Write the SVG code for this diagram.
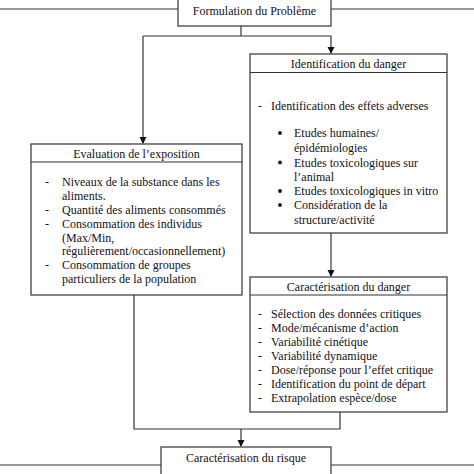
<svg xmlns="http://www.w3.org/2000/svg" width="474" height="474" viewBox="0 0 474 474">
<defs>
<marker id="arr" markerWidth="7" markerHeight="8" refX="6" refY="3.5" orient="auto" markerUnits="userSpaceOnUse">
<path d="M0,0 L7,3.5 L0,7 Z" fill="#111"/>
</marker>
<style>
.box{fill:#fff;stroke:#333;stroke-width:1.2}
.ln{fill:none;stroke:#333;stroke-width:1.2}
text{font-family:"Liberation Serif","Times New Roman",serif;font-size:12px;fill:#111}
.c{text-anchor:middle}
.dot{fill:#111}
</style>
</defs>
<rect width="474" height="474" fill="#fff"/>
<g id="connectors">
<line class="ln" x1="0" y1="9" x2="178" y2="9"/>
<line class="ln" x1="331" y1="9" x2="474" y2="9"/>
<line class="ln" x1="0" y1="465" x2="161" y2="465"/>
<line class="ln" x1="331" y1="465" x2="474" y2="465"/>
<line class="ln" x1="241" y1="26" x2="241" y2="36"/>
<polyline class="ln" points="143,36 331,36 331,53" marker-end="url(#arr)"/>
<line class="ln" x1="143" y1="36" x2="143" y2="143" marker-end="url(#arr)"/>
<line class="ln" x1="331" y1="233" x2="331" y2="276" marker-end="url(#arr)"/>
<polyline class="ln" points="134,295 134,429 340,429 340,412"/>
<line class="ln" x1="241" y1="429" x2="241" y2="446" marker-end="url(#arr)"/>
</g>
<g id="formulation">
<rect class="box" x="178" y="-5" width="153" height="31"/>
<text class="c" x="254.5" y="15">Formulation du Problème</text>
</g>
<g id="identification">
<rect class="box" x="250" y="54" width="197" height="179"/>
<line class="ln" x1="250" y1="72.5" x2="447" y2="72.5"/>
<text class="c" x="348.5" y="68">Identification du danger</text>
<text x="258" y="110">-</text>
<text x="271" y="110">Identification des effets adverses</text>
<circle class="dot" cx="280" cy="133" r="1.9"/>
<circle class="dot" cx="280" cy="162.5" r="1.9"/>
<circle class="dot" cx="280" cy="191" r="1.9"/>
<circle class="dot" cx="280" cy="205" r="1.9"/>
<text x="294" y="137">Etudes humaines/</text>
<text x="294" y="152">épidémiologies</text>
<text x="294" y="166.5">Etudes toxicologiques sur</text>
<text x="294" y="181">l’animal</text>
<text x="294" y="195">Etudes toxicologiques in vitro</text>
<text x="294" y="209">Considération de la</text>
<text x="294" y="224">structure/activité</text>
</g>
<g id="evaluation">
<rect class="box" x="31" y="144" width="211" height="151"/>
<line class="ln" x1="31" y1="162" x2="242" y2="162"/>
<text class="c" x="136.5" y="158">Evaluation de l’exposition</text>
<text x="45" y="186">-</text>
<text x="62" y="186">Niveaux de la substance dans les</text>
<text x="62" y="200">aliments.</text>
<text x="45" y="214">-</text>
<text x="62" y="214">Quantité des aliments consommés</text>
<text x="45" y="227.5">-</text>
<text x="62" y="227.5">Consommation des individus</text>
<text x="62" y="241.5">(Max/Min,</text>
<text x="62" y="255">régulièrement/occasionnellement)</text>
<text x="45" y="269">-</text>
<text x="62" y="269">Consommation de groupes</text>
<text x="62" y="283">particuliers de la population</text>
</g>
<g id="caracterisation-danger">
<rect class="box" x="250" y="277" width="197" height="135"/>
<line class="ln" x1="250" y1="295" x2="447" y2="295"/>
<text class="c" x="348.5" y="291">Caractérisation du danger</text>
<text x="258" y="318">-</text><text x="271" y="318">Sélection des données critiques</text>
<text x="258" y="332">-</text><text x="271" y="332">Mode/mécanisme d’action</text>
<text x="258" y="346">-</text><text x="271" y="346">Variabilité cinétique</text>
<text x="258" y="360">-</text><text x="271" y="360">Variabilité dynamique</text>
<text x="258" y="374">-</text><text x="271" y="374">Dose/réponse pour l’effet critique</text>
<text x="258" y="388">-</text><text x="271" y="388">Identification du point de départ</text>
<text x="258" y="402">-</text><text x="271" y="402">Extrapolation espèce/dose</text>
</g>
<g id="caracterisation-risque">
<rect class="box" x="161" y="447" width="170" height="40"/>
<text class="c" x="246" y="462">Caractérisation du risque</text>
</g>
</svg>
